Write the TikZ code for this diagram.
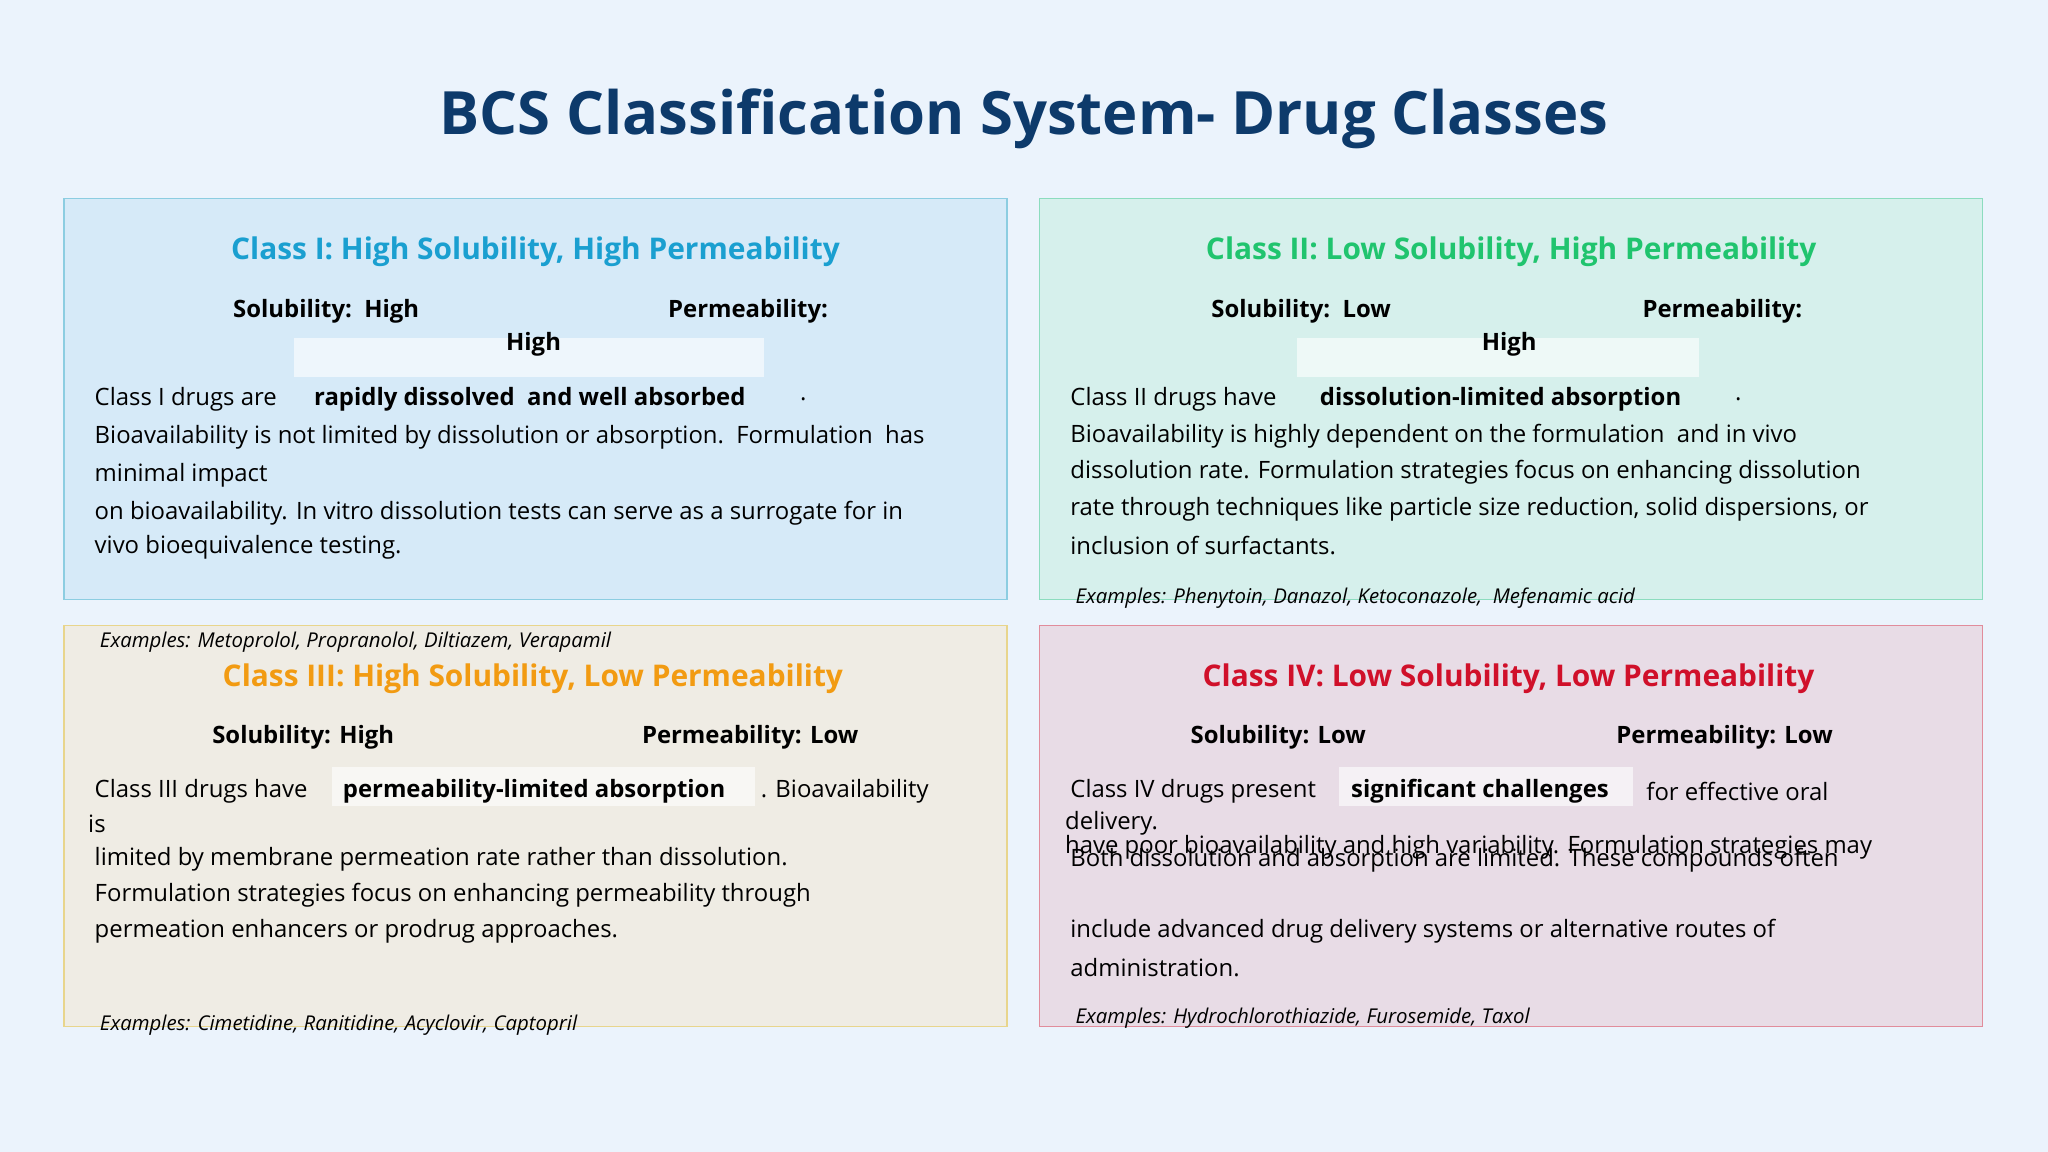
\documentclass[tikz,border=0pt]{standalone}
\usepackage{fontspec}
\setmainfont{Open Sans}
\begin{document}
\begin{tikzpicture}[x=0.01306cm,y=-0.01306cm,
 txt/.style={anchor=west,inner sep=0pt,yshift=-1pt,font=\fontsize{6.8pt}{8pt}\selectfont},
 bld/.style={txt,font=\fontsize{6.8pt}{8pt}\selectfont\bfseries},
 ex/.style={anchor=west,inner sep=0pt,yshift=-1pt,font=\fontsize{5.8pt}{7pt}\selectfont\itshape},
 hd/.style={inner sep=0pt,yshift=-1pt,font=\fontsize{8.5pt}{10pt}\selectfont\bfseries},
 hl/.style={fill=white,fill opacity=0.6,draw=none},
 card/.style={line width=0.4pt}]
\definecolor{bg}{HTML}{EBF3FC}
\fill[bg] (0,0) rectangle (1568,882);
\useasboundingbox (0,0) rectangle (1568,882);
\node[inner sep=0pt,yshift=-1.5pt,font=\fontsize{17pt}{20pt}\selectfont\bfseries,text={rgb,255:red,13;green,58;blue,107}] (title) at (784,87) {BCS Classification System- Drug Classes};
% cards
\draw[card,fill={rgb,255:red,214;green,234;blue,248},draw={rgb,255:red,140;green,205;blue,225}] (49,152) rectangle (771,459);
\draw[card,fill={rgb,255:red,214;green,240;blue,236},draw={rgb,255:red,140;green,220;blue,190}] (796,152) rectangle (1518,459);
\draw[card,fill={rgb,255:red,239;green,236;blue,228},draw={rgb,255:red,232;green,213;blue,140}] (49,479) rectangle (771,786);
\draw[card,fill={rgb,255:red,232;green,220;blue,230},draw={rgb,255:red,225;green,140;blue,155}] (796,479) rectangle (1518,786);
% Class I
\node[hd,text={rgb,255:red,26;green,159;blue,208}] (h1) at (410,190) {Class I: High Solubility, High Permeability};
\node[bld] (s1) at (178,236) {Solubility:\ \ High};
\node[bld] (p1) at (511,236) {Permeability:};
\fill[hl] (225,259) rectangle (585,289);
\node[bld] (p1b) at (387,261) {High};
\node[txt] at (72,303) {Class I drugs are};
\node[bld] at (240,303) {rapidly dissolved\ \ and well absorbed};
\node[txt] at (612,303) {.};
\node[txt] at (72,332) {Bioavailability is not limited by dissolution or absorption.\ \ Formulation\ \ has};
\node[txt] at (72,361) {minimal impact};
\node[txt] at (72,390) {on bioavailability. In vitro dissolution tests can serve as a surrogate for in};
\node[txt] at (72,416) {vivo bioequivalence testing.};
\node[ex] at (76,489) {Examples: Metoprolol, Propranolol, Diltiazem, Verapamil};
% Class II
\node[hd,text={rgb,255:red,32;green,196;blue,110}] (h2) at (1157,190) {Class II: Low Solubility, High Permeability};
\node[bld] at (927,236) {Solubility:\ \ Low};
\node[bld] at (1257,236) {Permeability:};
\fill[hl] (993,259) rectangle (1301,289);
\node[bld] at (1134,261) {High};
\node[txt] at (819,303) {Class II drugs have};
\node[bld] at (1010,303) {dissolution-limited absorption};
\node[txt] at (1328,303) {.};
\node[txt] at (819,331) {Bioavailability is highly dependent on the formulation\ \ and in vivo};
\node[txt] at (819,359) {dissolution rate. Formulation strategies focus on enhancing dissolution};
\node[txt] at (819,387) {rate through techniques like particle size reduction, solid dispersions, or};
\node[txt] at (819,415) {inclusion of surfactants.};
\node[ex] at (823,455) {Examples: Phenytoin, Danazol, Ketoconazole,\ \ Mefenamic acid};
% Class III
\node[hd,text={rgb,255:red,242;green,155;blue,18}] (h3) at (408,517) {Class III: High Solubility, Low Permeability};
\node[bld] at (162,562) {Solubility: High};
\node[bld] at (491,562) {Permeability: Low};
\node[txt] at (72,603) {Class III drugs have};
\fill[hl] (254,587) rectangle (578,617);
\node[bld] at (262,603) {permeability-limited absorption};
\node[txt] at (582,603) {. Bioavailability};
\node[txt] at (67,628) {is};
\node[txt] at (72,655) {limited by membrane permeation rate rather than dissolution.};
\node[txt] at (72,683) {Formulation strategies focus on enhancing permeability through};
\node[txt] at (72,710) {permeation enhancers or prodrug approaches.};
\node[ex] at (76,782) {Examples: Cimetidine, Ranitidine, Acyclovir, Captopril};
% Class IV
\node[hd,text={rgb,255:red,208;green,16;blue,42}] (h4) at (1155,517) {Class IV: Low Solubility, Low Permeability};
\node[bld] at (911,562) {Solubility: Low};
\node[bld] at (1237,562) {Permeability: Low};
\node[txt] at (819,603) {Class IV drugs present};
\fill[hl] (1025,587) rectangle (1250,617);
\node[bld] at (1034,603) {significant challenges};
\node[txt] at (1260,603) {for effective oral};
\node[txt] at (815,628) {delivery.};
\node[txt] at (815,646) {have poor bioavailability and high variability. Formulation strategies may};
\node[txt] at (819,656) {Both dissolution and absorption are limited. These compounds often};
\node[txt] at (819,710) {include advanced drug delivery systems or alternative routes of};
\node[txt] at (819,738) {administration.};
\node[ex] at (823,777) {Examples: Hydrochlorothiazide, Furosemide, Taxol};
\end{tikzpicture}
\end{document}
